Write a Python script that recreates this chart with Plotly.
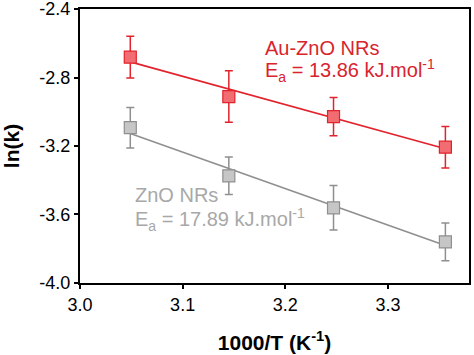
import numpy as np
import plotly.graph_objects as go

x_vals = [3.049, 3.145, 3.247, 3.356]
au_zno = [-2.681, -2.911, -3.028, -3.207]
au_zno_err = [0.122, 0.150, 0.112, 0.121]
zno = [-3.093, -3.374, -3.561, -3.760]
zno_err = [0.118, 0.110, 0.130, 0.110]
x_ticks = [3.0, 3.1, 3.2, 3.3]
y_ticks = [-4.0, -3.6, -3.2, -2.8, -2.4]

RED_LINE = "#e2222c"
RED_FILL = "#f26d72"
GRAY_LINE = "#8f8f8f"
GRAY_FILL = "#c6c6c6"
FONT = "Liberation Sans, Arial, sans-serif"

fig = go.Figure()

for ys, err, lc, fc in [(au_zno, au_zno_err, RED_LINE, RED_FILL),
                        (zno, zno_err, GRAY_LINE, GRAY_FILL)]:
    k, b = np.polyfit(x_vals, ys, 1)
    xf = [x_vals[0], x_vals[-1]]
    fig.add_trace(go.Scatter(x=xf, y=[k * v + b for v in xf], mode="lines",
                             line=dict(color=lc, width=1.6), showlegend=False,
                             hoverinfo="skip"))
    fig.add_trace(go.Scatter(x=x_vals, y=ys, mode="markers",
                             marker=dict(symbol="square", size=12, color=fc,
                                         line=dict(color=lc, width=1.2)),
                             error_y=dict(type="data", array=err, visible=True,
                                          color=lc, thickness=1.5, width=4),
                             showlegend=False))

fig.add_annotation(x=3.178, y=-2.626, xref="x", yref="y", xanchor="left",
                   yanchor="middle", showarrow=False, text="Au-ZnO NRs",
                   font=dict(family=FONT, size=20, color="#d8242e"))
fig.add_annotation(x=3.178, y=-2.757, xref="x", yref="y", xanchor="left",
                   yanchor="middle", showarrow=False,
                   text="E<sub>a</sub> = 13.86 kJ.mol<sup>-1</sup>",
                   font=dict(family=FONT, size=20, color="#d8242e"))
fig.add_annotation(x=3.052, y=-3.488, xref="x", yref="y", xanchor="left",
                   yanchor="middle", showarrow=False, text="ZnO NRs",
                   font=dict(family=FONT, size=20, color="#a8a8a8"))
fig.add_annotation(x=3.052, y=-3.627, xref="x", yref="y", xanchor="left",
                   yanchor="middle", showarrow=False,
                   text="E<sub>a</sub> = 17.89 kJ.mol<sup>-1</sup>",
                   font=dict(family=FONT, size=20, color="#a8a8a8"))

fig.update_xaxes(range=[3.0, 3.379], tickvals=x_ticks,
                 ticktext=[f"{v:.1f}" for v in x_ticks], automargin=False,
                 showline=True, linecolor="black", linewidth=2, mirror=True,
                 ticks="outside", ticklen=4, tickwidth=1.5, tickcolor="black",
                 showgrid=False, zeroline=False, ticklabeloverflow="allow",
                 tickfont=dict(family=FONT, size=18, color="black"),
                 title=dict(text="<b>1000/T (K<sup>-1</sup>)</b>", standoff=22,
                            font=dict(family=FONT, size=21, color="black")))
fig.update_yaxes(range=[-4.0005, -2.3995], tickvals=y_ticks,
                 ticktext=[f"{v:.1f}" for v in y_ticks], automargin=False,
                 showline=True, linecolor="black", linewidth=2, mirror=True,
                 ticks="outside", ticklen=4, tickwidth=1.5, tickcolor="black",
                 showgrid=False, zeroline=False, ticklabeloverflow="allow",
                 tickfont=dict(family=FONT, size=18, color="black"),
                 title=dict(text="<b>ln(k)</b>", standoff=27,
                            font=dict(family=FONT, size=21, color="black")))

fig.update_layout(width=474, height=355, plot_bgcolor="white",
                  paper_bgcolor="white",
                  margin=dict(l=80, r=5, t=9, b=72))

fig.write_html("out.html", config={"displayModeBar": False},
               post_script="document.body.style.margin='0';")
